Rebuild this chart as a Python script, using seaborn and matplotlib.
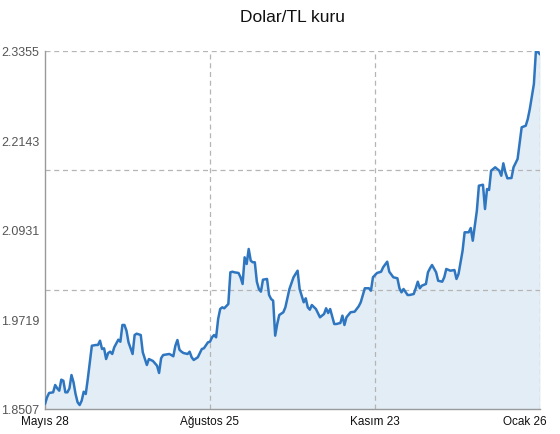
import numpy as np
import pandas as pd
import matplotlib
matplotlib.use("Agg")
import matplotlib.pyplot as plt
import matplotlib.transforms as mtransforms
import seaborn as sns


# ==========================================
# DATA
# ==========================================

# day offset from 28 May
days = [
    0, 1, 2, 4, 5, 6, 7, 8, 9, 10, 11, 12, 13, 14, 15, 16, 17, 18, 19, 20,
    21, 23, 25, 26, 27, 28, 29, 30, 31, 32, 33, 34, 36, 37, 38, 39, 40, 41,
    43, 44, 45, 47, 48, 50, 51, 53, 55, 56, 57, 58, 61, 62, 63, 64, 65, 66,
    67, 68, 70, 71, 72, 73, 75, 77, 78, 80, 81, 82, 83, 84, 85, 86, 87, 88,
    90, 91, 92, 93, 95, 96, 97, 98, 99, 100, 101, 102, 103, 104, 105, 106,
    107, 109, 110, 111, 112, 113, 114, 115, 117, 118, 120, 122, 124, 125,
    127, 128, 129, 130, 131, 133, 135, 137, 138, 139, 140, 142, 143, 145,
    146, 147, 148, 150, 152, 154, 155, 157, 159, 160, 161, 163, 165, 166,
    168, 169, 171, 173, 174, 175, 176, 178, 179, 181, 182, 183, 184, 185,
    187, 188, 189, 190, 192, 193, 195, 196, 197, 199, 201, 202, 203, 205,
    206, 208, 209, 210, 212, 213, 215, 216, 217, 218, 219, 221, 223, 224,
    225, 226, 227, 229, 230, 232, 234, 236, 237, 238, 240, 241, 242, 243,
]

rates = [
    1.8575, 1.8665, 1.8724, 1.8733, 1.8832, 1.8787, 1.8755, 1.8904, 1.8890,
    1.8733, 1.8733, 1.8787, 1.8967, 1.8869, 1.8710, 1.8598, 1.8561, 1.8619,
    1.8741, 1.8710, 1.8913, 1.9364, 1.9374, 1.9374, 1.9432, 1.9320, 1.9329,
    1.9184, 1.9265, 1.9283, 1.9252, 1.9343, 1.9446, 1.9418, 1.9645, 1.9645,
    1.9567, 1.9410, 1.9252, 1.9509, 1.9527, 1.9509, 1.9275, 1.9103, 1.9184,
    1.9157, 1.9093, 1.8995, 1.9194, 1.9238, 1.9252, 1.9238, 1.9221, 1.9364,
    1.9441, 1.9310, 1.9283, 1.9265, 1.9252, 1.9283, 1.9207, 1.9171, 1.9207,
    1.9320, 1.9329, 1.9410, 1.9418, 1.9478, 1.9509, 1.9478, 1.9726, 1.9861,
    1.9884, 1.9871, 1.9929, 2.0358, 2.0366, 2.0358, 2.0349, 2.0291, 2.0200,
    2.0561, 2.0471, 2.0674, 2.0515, 2.0494, 2.0494, 2.0231, 2.0132, 2.0096,
    2.0258, 2.0268, 2.0051, 1.9997, 1.9974, 1.9500, 1.9658, 1.9780, 1.9817,
    1.9884, 2.0132, 2.0291, 2.0380, 2.0132, 1.9952, 2.0006, 1.9884, 1.9852,
    1.9915, 1.9861, 1.9749, 1.9794, 1.9871, 1.9807, 1.9861, 1.9658, 1.9658,
    1.9672, 1.9771, 1.9645, 1.9749, 1.9817, 1.9825, 1.9898, 1.9952, 2.0142,
    2.0142, 2.0109, 2.0291, 2.0349, 2.0366, 2.0426, 2.0502, 2.0366, 2.0291,
    2.0277, 2.0142, 2.0087, 2.0132, 2.0051, 2.0051, 2.0064, 2.0142, 2.0231,
    2.0142, 2.0177, 2.0200, 2.0358, 2.0412, 2.0457, 2.0358, 2.0244, 2.0231,
    2.0291, 2.0403, 2.0380, 2.0389, 2.0268, 2.0335, 2.0651, 2.0900, 2.0900,
    2.0958, 2.0786, 2.1192, 2.1531, 2.1544, 2.1215, 2.1486, 2.1473, 2.1734,
    2.1780, 2.1734, 2.1666, 2.1834, 2.1712, 2.1631, 2.1635, 2.1780, 2.1893,
    2.2322, 2.2343, 2.2434, 2.2570, 2.2908, 2.3355, 2.3340, 2.3310,
]

y_ticks = [1.8507, 1.9719, 2.0931, 2.2143, 2.3355]
x_labels = ["Mayıs 28", "Ağustos 25", "Kasım 23", "Ocak 26"]

df = pd.DataFrame({"gun": days, "kur": rates})


# ==========================================
# PLOT
# ==========================================

sns.set_style("white")
plt.rcParams["font.family"] = ["Liberation Sans", "DejaVu Sans"]

fig = plt.figure(figsize=(5.6, 4.35), dpi=100)
ax = fig.add_axes([45 / 560, 25 / 435, 495 / 560, 358 / 435])

x_min, x_max = df["gun"].min(), df["gun"].max()
y_min, y_max = y_ticks[0], y_ticks[-1]

ax.fill_between(df["gun"], df["kur"], y_min, color="#e3edf6", lw=0, zorder=1)

sns.lineplot(
    data=df,
    x="gun",
    y="kur",
    ax=ax,
    color="#2f76c1",
    linewidth=1.8,
    zorder=3
)

ax.set_xlim(x_min, x_max)
ax.set_ylim(y_min, y_max)

# dashed grid at thirds of the plot area
for f in [1 / 3, 2 / 3, 1.0]:
    ax.axvline(x_min + f * (x_max - x_min), color="#b5b5b5", lw=0.9,
               ls=(0, (4, 3)), zorder=2)
    ax.axhline(y_min + f * (y_max - y_min), color="#b5b5b5", lw=0.9,
               ls=(0, (4, 3)), zorder=2)

ax.set_yticks(y_ticks)
ax.set_yticklabels([f"{v:.4f}" for v in y_ticks])
ax.tick_params(axis="y", length=3, width=0.8, color="#999999",
               labelsize=9, labelcolor="#555555", pad=1)

ax.set_xticks(np.linspace(x_min, x_max, 4))
ax.set_xticklabels(x_labels)
ax.tick_params(axis="x", length=0, labelsize=8.5, labelcolor="#111111", pad=4)
last = ax.get_xticklabels()[-1]
last.set_transform(last.get_transform() +
                   mtransforms.ScaledTranslation(-0.15, 0, fig.dpi_scale_trans))

for side in ["top", "right"]:
    ax.spines[side].set_visible(False)
for side in ["left", "bottom"]:
    ax.spines[side].set_color("#9a9a9a")
    ax.spines[side].set_linewidth(1.0)

ax.set_xlabel("")
ax.set_ylabel("")

fig.text(292 / 560, 1 - 18 / 435, "Dolar/TL kuru", ha="center", va="center",
         fontsize=12.5, color="#111111")

plt.savefig("out.png", dpi=100)
